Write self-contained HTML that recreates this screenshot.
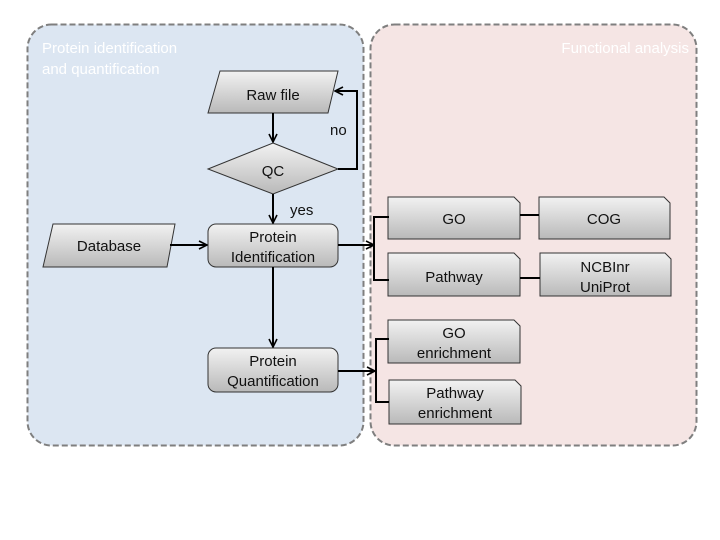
<!DOCTYPE html>
<html><head><meta charset="utf-8"><style>
html,body{margin:0;padding:0;background:#fff;}
svg{display:block;}
text{font-family:"Liberation Sans",sans-serif;font-size:15px;fill:#111;}
</style></head><body>
<svg width="720" height="540" viewBox="0 0 720 540" xmlns="http://www.w3.org/2000/svg">
<defs>
<linearGradient id="g" x1="0" y1="0" x2="0" y2="1">
<stop offset="0" stop-color="#f2f2f2"/><stop offset="1" stop-color="#b9b9b9"/>
</linearGradient>
<marker id="a" markerWidth="10" markerHeight="10" refX="9" refY="5" orient="auto" markerUnits="userSpaceOnUse">
<path d="M1,1 L9,5 L1,9" fill="none" stroke="#000" stroke-width="1.6"/>
</marker>
</defs>
<rect x="27.5" y="24.5" width="336" height="421" rx="24" fill="#dce6f2" stroke="#7f7f7f" stroke-width="2" stroke-dasharray="6,3"/>
<rect x="370.5" y="24.5" width="326" height="421" rx="24" fill="#f5e5e4" stroke="#7f7f7f" stroke-width="2" stroke-dasharray="6,3"/>
<text x="42" y="53" style="fill:#fff">Protein identification</text>
<text x="42" y="74" style="fill:#fff">and quantification</text>
<text x="689" y="53" text-anchor="end" style="fill:#fff">Functional analysis</text>

<g stroke="#333" stroke-width="1" fill="url(#g)">
<polygon points="220,71 338,71 328,113 208,113"/>
<polygon points="273,143 338,169 273,194 208,169"/>
<rect x="208" y="224" width="130" height="43" rx="8"/>
<polygon points="53,224 175,224 167,267 43,267"/>
<rect x="208" y="348" width="130" height="44" rx="8"/>
<path d="M388,197 H514 L520,203 V239 H388 Z"/>
<path d="M539,197 H664 L670,203 V239 H539 Z"/>
<path d="M388,253 H514 L520,259 V296 H388 Z"/>
<path d="M540,253 H665 L671,259 V296 H540 Z"/>
<path d="M388,320 H514 L520,326 V363 H388 Z"/>
<path d="M389,380 H515 L521,386 V424 H389 Z"/>
</g>

<g stroke="#000" stroke-width="2" fill="none">
<line x1="273" y1="113" x2="273" y2="142" marker-end="url(#a)"/>
<line x1="273" y1="194" x2="273" y2="223" marker-end="url(#a)"/>
<polyline points="338,169 357,169 357,91 335,91" marker-end="url(#a)"/>
<line x1="170" y1="245" x2="207" y2="245" marker-end="url(#a)"/>
<line x1="273" y1="267" x2="273" y2="347" marker-end="url(#a)"/>
<line x1="338" y1="245" x2="374" y2="245" marker-end="url(#a)"/>
<line x1="338" y1="371" x2="375" y2="371" marker-end="url(#a)"/>
<polyline points="389,217 374,217 374,280 389,280"/>
<polyline points="389,339 376,339 376,402 389,402"/>
<line x1="520" y1="215" x2="539" y2="215"/>
<line x1="520" y1="278" x2="540" y2="278"/>
</g>

<text x="273" y="100" text-anchor="middle">Raw file</text>
<text x="273" y="176" text-anchor="middle">QC</text>
<text x="330" y="135">no</text>
<text x="290" y="215">yes</text>
<text x="273" y="242" text-anchor="middle">Protein</text>
<text x="273" y="262" text-anchor="middle">Identification</text>
<text x="109" y="251" text-anchor="middle">Database</text>
<text x="273" y="366" text-anchor="middle">Protein</text>
<text x="273" y="386" text-anchor="middle">Quantification</text>
<text x="454" y="224" text-anchor="middle">GO</text>
<text x="604" y="224" text-anchor="middle">COG</text>
<text x="454" y="282" text-anchor="middle">Pathway</text>
<text x="605" y="272" text-anchor="middle">NCBInr</text>
<text x="605" y="292" text-anchor="middle">UniProt</text>
<text x="454" y="338" text-anchor="middle">GO</text>
<text x="454" y="358" text-anchor="middle">enrichment</text>
<text x="455" y="398" text-anchor="middle">Pathway</text>
<text x="455" y="418" text-anchor="middle">enrichment</text>
</svg>
</body></html>
